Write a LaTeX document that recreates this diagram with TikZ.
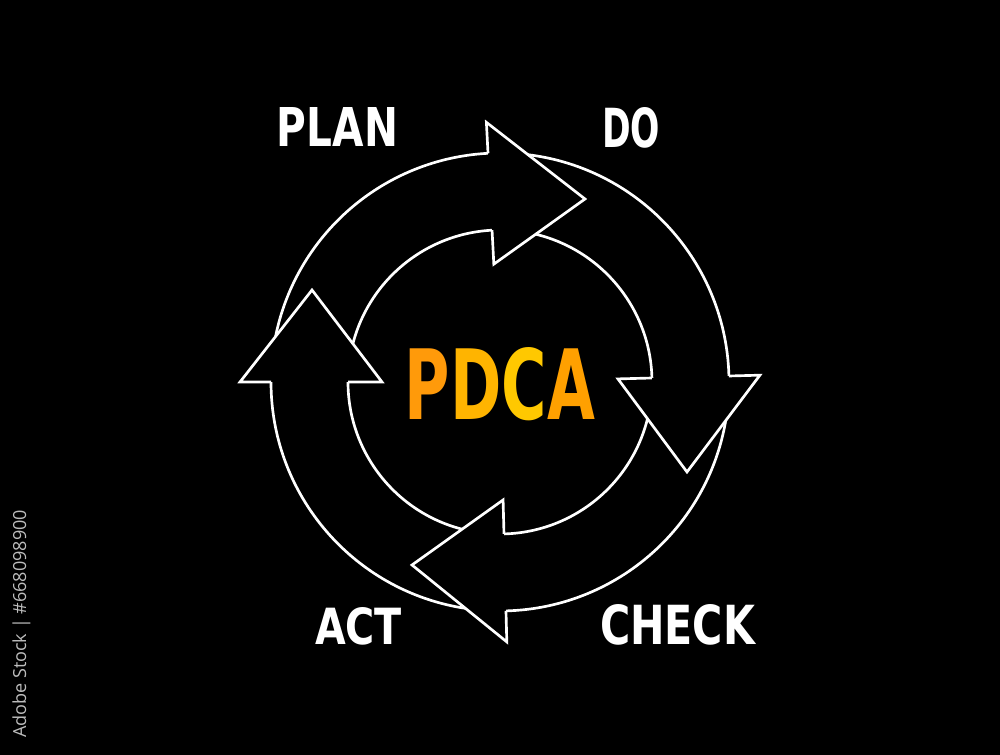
\documentclass[tikz,border=0pt]{standalone}
\usepackage{fontspec}
\setmainfont{DejaVu Sans}
\newfontfamily\idfont{Open Sans}
\usepackage{graphicx}
\usetikzlibrary{calc}
\definecolor{pdcaP}{HTML}{FF9A0A}
\definecolor{pdcaD}{HTML}{FFB400}
\definecolor{pdcaC}{HTML}{FFC800}
\definecolor{pdcaA}{HTML}{FFA000}
\definecolor{idgrey}{HTML}{BDBDBD}
\tikzset{
  ring/.style={draw=white, line width=2pt, line join=miter},
  phaselabel/.style={text=white, inner sep=0pt, anchor=center},
}
\newcommand\Ro{229}
\newcommand\Ri{152}
\newcommand\Wo{260}
\newcommand\Wi{118}
\newcommand\pdcabody[2]{%
  \fill[black] ($(C)+(#1:\Ro)$) arc[start angle=#1,end angle=#2,radius=\Ro]
     -- ($(C)+(#2:\Ri)$) arc[start angle=#2,end angle=#1,radius=\Ri] -- cycle;
  \draw[ring] ($(C)+(#1:\Ro)$) arc[start angle=#1,end angle=#2,radius=\Ro];
  \draw[ring] ($(C)+(#1:\Ri)$) arc[start angle=#1,end angle=#2,radius=\Ri];
}
\newcommand\pdcahead[2]{%
  \filldraw[ring,fill=black] ($(C)+(#1:\Ro)$) -- ($(C)+(#1:\Wo)$) -- (#2)
     -- ($(C)+(#1:\Wi)$) -- ($(C)+(#1:\Ri)$);
}
\begin{document}
\begin{tikzpicture}[x=0.75pt,y=0.75pt]
\useasboundingbox (0,0) rectangle (1000,755);
\fill[black] (0,0) rectangle (1000,755);
\coordinate (C) at (500,373);
\coordinate (tipPlan) at (585,556);
\coordinate (tipDo) at (687,283);
\coordinate (tipCheck) at (412,190);
\coordinate (tipAct) at (312,465);
% bodies
\pdcabody{173}{93}
\pdcabody{86}{1.5}
\pdcabody{-5.5}{-88.5}
\pdcabody{-95.5}{-180}
% heads
\pdcahead{93}{tipPlan}
\pdcahead{1.5}{tipDo}
\pdcahead{-88.5}{tipCheck}
\pdcahead{180}{tipAct}
% labels
\node[phaselabel] (plan) at (337.5,627.5) {\resizebox{90.75pt}{29.25pt}{\bfseries PLAN}};
\node[phaselabel] (do) at (631,627) {\resizebox{43.5pt}{30pt}{\bfseries DO}};
\node[phaselabel] (act) at (358.5,128.5) {\resizebox{65.25pt}{27.75pt}{\bfseries ACT}};
\node[phaselabel] (check) at (677.5,130) {\resizebox{116.25pt}{30pt}{\bfseries CHECK}};
\node[phaselabel] (pdca) at (500,371) {\resizebox{142.5pt}{54pt}{\bfseries\textcolor{pdcaP}{P}\textcolor{pdcaD}{D}\textcolor{pdcaC}{C}\textcolor{pdcaA}{A}}};
\node[text=idgrey, inner sep=0pt, rotate=90, anchor=center] (stockid) at (21.5,131) {\resizebox{171pt}{!}{\idfont Adobe Stock | \#668098900}};
\end{tikzpicture}
\end{document}
